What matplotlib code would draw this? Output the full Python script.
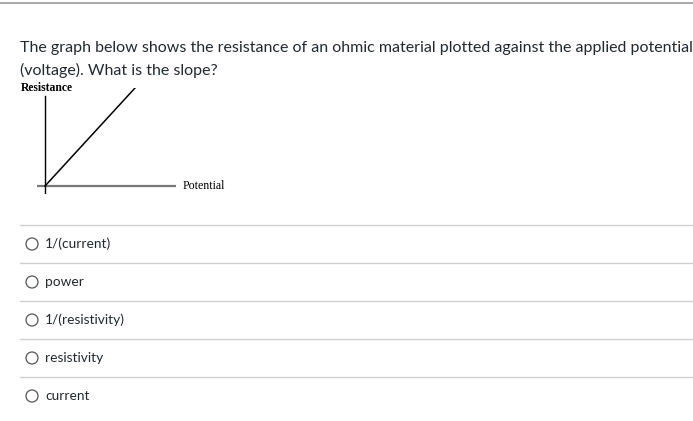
import matplotlib.pyplot as plt
from matplotlib.patches import Circle

# question text and answer choices
question = ["The graph below shows the resistance of an ohmic material plotted against the applied potential",
            "(voltage). What is the slope?"]
choices = ["1/(current)", "power", "1/(resistivity)", "resistivity", "current"]

# the little schematic graph: resistance rises linearly with potential
potential = [0.0, 1.0]
resistance = [0.0, 1.0]
x_label = "Potential"
y_label = "Resistance"

W, H = 693, 421
fig = plt.figure(figsize=(W / 100, H / 100), dpi=100)

# page axes in pixel units
page = fig.add_axes([0, 0, 1, 1])
page.set_xlim(0, W)
page.set_ylim(H, 0)
page.axis("off")

page.plot([0, W], [3, 3], color="#9a9a9a", lw=1.2)

sans = ["Lato", "DejaVu Sans"]
serif = ["Liberation Serif", "DejaVu Serif"]
page.text(20, 52, question[0], fontsize=11.5, family=sans, color="#222a30", va="baseline")
page.text(20, 75, question[1], fontsize=11.5, family=sans, color="#222a30", va="baseline")

sep_y = 225
row_h = 38
for i, c in enumerate(choices):
    y0 = sep_y + i * row_h
    page.plot([20, W], [y0, y0], color="#d0d0d0", lw=1.0)
    cy = y0 + 19
    page.add_patch(Circle((32, cy), 6, fill=False, ec="#555555", lw=0.9))
    page.text(45, cy, c, fontsize=9.9, family=sans, color="#222a30", va="center")

# inset graph (pixel box 37..176 x, 88..194 y)
ax = fig.add_axes([37 / W, (H - 194) / H, 139 / W, 106 / H])
ax.set_xlim(-8 / 90, 131 / 90)
ax.set_ylim(-8 / 98, 1.0)
ax.axis("off")
ax.axhline(0, color="#777777", lw=1.6, xmin=0, xmax=1)
ax.axvline(0, color="black", lw=1.0, ymin=0, ymax=(0.918 + 8 / 98) / (1 + 8 / 98))
ax.plot(potential, resistance, color="black", lw=1.1)

page.text(21, 88, y_label, fontsize=8.4, family=serif, color="black", va="center", fontweight="bold")
page.text(183, 186, x_label, fontsize=8.6, family=serif, color="black", va="center")

fig.savefig("out.png", dpi=100)
